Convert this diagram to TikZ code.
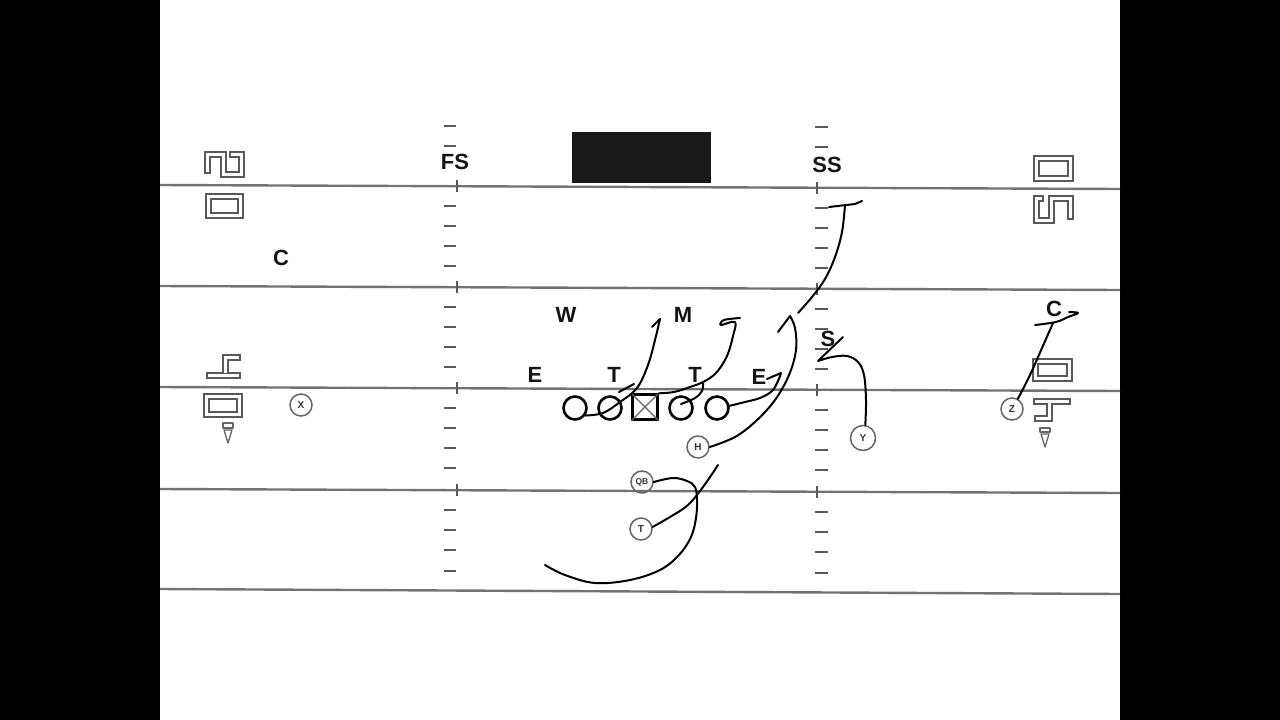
\documentclass[tikz,border=0pt]{standalone}
\usepackage{fontspec}
\setmainfont{Liberation Sans}
\begin{document}
\begin{tikzpicture}[x=1pt,y=-1pt,
  fieldline/.style={draw=black!55, line width=2.4pt},
  hashmark/.style={draw=black!65, line width=2.8pt},
  lbl/.style={font=\fontsize{22}{22}\selectfont\bfseries, text=black!92, inner sep=0pt},
  lineman/.style={circle, draw=black, line width=2.6pt, minimum size=23pt, inner sep=0pt},
  centersq/.style={rectangle, draw=black, line width=2.4pt, minimum size=25pt, inner sep=0pt},
  skill/.style={circle, draw=black!60, line width=1.5pt, minimum size=22pt, inner sep=0pt,
     font=\fontsize{10}{10}\selectfont\bfseries, text=black!80},
  route/.style={draw=black, line width=2pt, line cap=round, line join=round},
  numout/.style={draw=black!65, line width=7pt, line join=miter},
  numin/.style={draw=white, line width=3pt, line join=miter},
  numinopen/.style={numin, shorten <=2pt, shorten >=2pt},
  arrowmark/.style={draw=black!60, line width=1.3pt, line join=round}
]
\useasboundingbox (0,0) rectangle (1280,720);
\fill[white] (0,0) rectangle (1280,720);
\fill[black] (0,0) rectangle (160,720);
\fill[black] (1120,0) rectangle (1280,720);

% yard lines
\draw[fieldline] (160,185) -- (1120,189);
\draw[fieldline] (160,286) -- (1120,290);
\draw[fieldline] (160,387) -- (1120,391);
\draw[fieldline] (160,489) -- (1120,493);
\draw[fieldline] (160,589) -- (1120,594);

% hash marks
\foreach \yy in {126,146,206,226,246,266,307,327,347,367,408,428,448,468,510,530,550,571}
  \draw[hashmark] (444,\yy) -- (456,\yy);
\foreach \yy in {127,147,208,228,248,268,309,329,349,369,410,430,450,470,512,532,552,573}
  \draw[hashmark] (815,\yy) -- (828,\yy);
\foreach \yy in {186,287,388,490}
  \draw[hashmark, line width=2.2pt] (457,\yy-6) -- (457,\yy+6);
\foreach \yy in {188,289,390,492}
  \draw[hashmark, line width=2.2pt] (817,\yy-6) -- (817,\yy+6);

% yard numbers (outlined)
\draw[numout] (207,174)--(207,154)--(223,154)--(223,174)--(241,174)--(241,154)--(229,154);
\draw[numinopen] (207,174)--(207,154)--(223,154)--(223,174)--(241,174)--(241,154)--(229,154);
\draw[numout] (208,196) rectangle (240,215);
\draw[numin] (208,196) rectangle (240,215);

\draw[numout] (241,357)--(225,357)--(225,375);
\draw[numout] (206,375)--(241,375);
\draw[numinopen] (241,357)--(225,357)--(225,375);
\draw[numinopen] (206,375)--(241,375);
\draw[numout] (206,396) rectangle (239,414);
\draw[numin] (206,396) rectangle (239,414);
\draw[arrowmark] (223,423) rectangle (233,428);
\draw[arrowmark] (224,430) -- (232,430) -- (228,443) -- cycle;

\draw[numout] (1036,158) rectangle (1070,178);
\draw[numin] (1036,158) rectangle (1070,178);
\draw[numout] (1044,198)--(1036,198)--(1036,220)--(1051,220)--(1051,198)--(1070,198)--(1070,220);
\draw[numinopen] (1044,198)--(1036,198)--(1036,220)--(1051,220)--(1051,198)--(1070,198)--(1070,220);

\draw[numout] (1035,361) rectangle (1069,378);
\draw[numin] (1035,361) rectangle (1069,378);
\draw[numout] (1033,401)--(1071,401);
\draw[numout] (1049,401)--(1049,418)--(1034,418);
\draw[numinopen] (1033,401)--(1071,401);
\draw[numinopen] (1049,401)--(1049,418)--(1034,418);
\draw[arrowmark] (1040,428) rectangle (1050,432);
\draw[arrowmark] (1041,434) -- (1049,434) -- (1045,447) -- cycle;

% black box
\node[fill=black!90, minimum width=139pt, minimum height=51pt, inner sep=0pt] (box) at (641.5,157.5) {};

% defensive labels
\node[lbl] (fs) at (455,162) {FS};
\node[lbl] (ss) at (827,165) {SS};
\node[lbl] (cl) at (281,258) {C};
\node[lbl] (w) at (566,315) {W};
\node[lbl] (m) at (683,315) {M};
\node[lbl] (el) at (535,375) {E};
\node[lbl] (tl) at (614,375) {T};
\node[lbl] (tr) at (695,375) {T};
\node[lbl] (er) at (759,377) {E};
\node[lbl] (s) at (828,339) {S};
\node[lbl] (cr) at (1054,309) {C};

% offensive line
\node[lineman] (g1) at (575,408) {};
\node[lineman] (g2) at (610,408) {};
\node[centersq] (c) at (645,407) {};
\draw[black!60, line width=1.2pt] (c.north west) -- (c.south east) (c.north east) -- (c.south west);
\node[lineman] (g4) at (681,408) {};
\node[lineman] (g5) at (717,408) {};

% skill players
\node[skill] (x) at (301,405) {X};
\node[skill] (h) at (698,447) {H};
\node[skill, font=\fontsize{8.5}{8.5}\selectfont\bfseries] (qb) at (642,482) {QB};
\node[skill] (t) at (641,529) {T};
\node[skill, minimum size=25pt] (y) at (863,438) {Y};
\node[skill] (z) at (1012,409) {Z};

% routes
\draw[route] plot[smooth, tension=0.6] coordinates {(g1.-36) (603,413) (620,402) (637,388) (648,365) (655,340) (660,319)} -- (652,327);
\draw[route] (619,392) -- (634,384);
\draw[route] plot[smooth, tension=0.6] coordinates {(c.north east) (674,392) (690,387) (703,382) (716,373) (727,356) (733,336) (735,322) (721,325) (724,320) (740,318)};
\draw[route] plot[smooth, tension=0.6] coordinates {([yshift=4pt]g4.center) (695,398) (702,391) (703,383)};
\draw[route] plot[smooth, tension=0.6] coordinates {(g5.10) (745,402) (760,398) (772,391) (778,381) (781,373)} -- (767,379);
\draw[route] plot[smooth, tension=0.6] coordinates {(h.east) (735,437) (756,421) (775,400) (789,375) (796,350) (795,328) (790,316)} -- (778,332);
\coordinate (ssstart) at (798,313);
\coordinate (ssend) at (845,205);
\draw[route] plot[smooth, tension=0.6] coordinates {(ssstart) (812,297) (825,279) (835,257) (842,232) (ssend)};
\draw[route] (829,207) -- (855,204) -- (862,201);
\draw[route] plot[smooth, tension=0.6] coordinates {(y.80) (866,400) (864,375) (858,362) (847,356) (832,357) (818,361)} -- (843,337);
\draw[route] plot[smooth, tension=0.6] coordinates {(z.60) (1030,375) (1042,348) (1053,323)};
\draw[route] plot[smooth, tension=0.6] coordinates {(1035,325) (1056,322) (1068,317) (1078,313) (1069,312)};
\draw[route] plot[smooth, tension=0.6] coordinates {(qb.east) (673,478) (687,481) (695,487) (697,500) (696,518) (691,537) (679,555) (660,570) (630,580) (595,583) (565,575) (545,565)};
\draw[route] plot[smooth, tension=0.6] coordinates {(t.10) (670,517) (688,505) (703,487) (718,465)};
\end{tikzpicture}
\end{document}
